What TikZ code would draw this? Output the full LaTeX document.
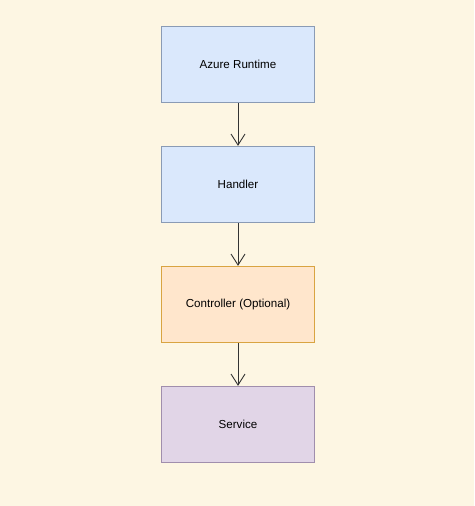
\documentclass[tikz,border=0pt]{standalone}
\usepackage{fontspec}
\setmainfont{Liberation Sans}
\usepackage{tikz}
\usetikzlibrary{arrows.meta,positioning}
\definecolor{bgcream}{HTML}{FDF6E3}
\definecolor{bluefill}{HTML}{DAE8FC}
\definecolor{blueline}{HTML}{8A9BB5}
\definecolor{orangefill}{HTML}{FFE6CC}
\definecolor{orangeline}{HTML}{D9A441}
\definecolor{purplefill}{HTML}{E1D5E7}
\definecolor{purpleline}{HTML}{A08EAD}
\begin{document}
\begin{tikzpicture}[x=1pt, y=-1pt,
  box/.style={draw, line width=0.8pt, minimum width=153.5pt, minimum height=76.5pt, inner sep=0pt, font=\fontsize{11.6}{13}\selectfont},
  flow/.style={draw=black!80, line width=0.9pt, -{Straight Barb[length=11pt, width=14pt, line width=0.9pt]}}]
%%%%% Background %%%%%
\fill[bgcream] (0,0) rectangle (474,506);
\useasboundingbox (0,0) rectangle (474,506);
%%%%% Boxes %%%%%
\node[box, fill=bluefill, draw=blueline] (runtime) at (238,64.5) {Azure Runtime};
\node[box, fill=bluefill, draw=blueline, below=42.7pt of runtime] (handler) {Handler};
\node[box, fill=orangefill, draw=orangeline, below=42.7pt of handler] (controller) {Controller (Optional)};
\node[box, fill=purplefill, draw=purpleline, below=42.7pt of controller] (service) {Service};
%%%%% Arrows %%%%%
\draw[flow] (runtime) -- (handler);
\draw[flow] (handler) -- (controller);
\draw[flow] (controller) -- (service);
\end{tikzpicture}
\end{document}
